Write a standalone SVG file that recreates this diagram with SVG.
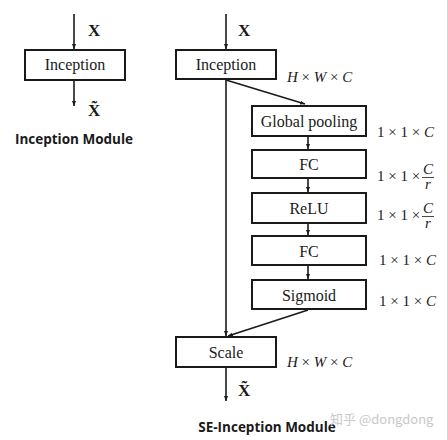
<svg xmlns="http://www.w3.org/2000/svg" width="447" height="440" viewBox="0 0 447 440">
<style>
.box{fill:#fff;stroke:#1a1a1a;stroke-width:2}
.ln{stroke:#1a1a1a;stroke-width:1.6;fill:none}
.t{font-family:"Liberation Serif",serif;font-size:16px;fill:#1a1a1a;text-anchor:middle}
.x{font-family:"Liberation Serif",serif;font-size:17px;font-weight:bold;fill:#1a1a1a}
.dim{font-family:"Liberation Serif",serif;font-size:15px;fill:#1a1a1a}
.it{font-style:italic}
.cap{font-family:"Open Sans","Liberation Sans",sans-serif;font-size:13.5px;font-weight:bold;fill:#1a1a1a;text-anchor:middle}
</style>
<defs>
<marker id="ah" viewBox="0 0 10 10" refX="10" refY="5" markerWidth="5" markerHeight="5" orient="auto" markerUnits="userSpaceOnUse">
<path d="M0,1 L10,5 L0,9 z" fill="#1a1a1a"/>
</marker>
</defs>
<rect width="447" height="440" fill="#fff"/>
<g id="connectors">
<line class="ln" x1="74" y1="14" x2="74" y2="49" marker-end="url(#ah)"/>
<line class="ln" x1="74" y1="81" x2="74" y2="106" marker-end="url(#ah)"/>
<line class="ln" x1="226" y1="14" x2="226" y2="49" marker-end="url(#ah)"/>
<line class="ln" x1="226" y1="80" x2="305" y2="104" marker-end="url(#ah)"/>
<line class="ln" x1="226" y1="80" x2="226" y2="336" marker-end="url(#ah)"/>
<line class="ln" x1="308" y1="137" x2="308" y2="149" marker-end="url(#ah)"/>
<line class="ln" x1="308" y1="178" x2="308" y2="192" marker-end="url(#ah)"/>
<line class="ln" x1="308" y1="224" x2="308" y2="235" marker-end="url(#ah)"/>
<line class="ln" x1="308" y1="266" x2="308" y2="279" marker-end="url(#ah)"/>
<line class="ln" x1="308" y1="310" x2="228" y2="336" marker-end="url(#ah)"/>
<line class="ln" x1="226" y1="368" x2="226" y2="401" marker-end="url(#ah)"/>
</g>
<g id="inception-left">
<rect class="box" x="25" y="50" width="100" height="30"/>
<text class="t" x="75" y="70">Inception</text>
</g>
<text class="x" x="88" y="36">X</text>
<text class="x" x="88" y="116">X̃</text>
<text class="cap" x="74" y="144">Inception Module</text>
<g id="inception-right">
<rect class="box" x="176" y="50" width="100" height="29"/>
<text class="t" x="226" y="70">Inception</text>
</g>
<text class="x" x="238" y="36">X</text>
<text class="dim" x="287" y="82"><tspan class="it">H</tspan> × <tspan class="it">W</tspan> × <tspan class="it">C</tspan></text>
<g id="global-pooling">
<rect class="box" x="252" y="106" width="114" height="30"/>
<text class="t" x="309" y="127">Global pooling</text>
</g>
<g id="fc1">
<rect class="box" x="252" y="150" width="114" height="28"/>
<text class="t" x="309" y="170">FC</text>
</g>
<g id="relu">
<rect class="box" x="252" y="193" width="114" height="30"/>
<text class="t" x="309" y="214">ReLU</text>
</g>
<g id="fc2">
<rect class="box" x="252" y="236" width="114" height="29"/>
<text class="t" x="309" y="257">FC</text>
</g>
<g id="sigmoid">
<rect class="box" x="252" y="280" width="114" height="29"/>
<text class="t" x="309" y="301">Sigmoid</text>
</g>
<text class="dim" x="377" y="137">1 × 1 × <tspan class="it">C</tspan></text>
<text class="dim" x="377" y="181">1 × 1 ×</text>
<text class="dim it" x="428" y="174" text-anchor="middle">C</text>
<line x1="422" y1="177.5" x2="434" y2="177.5" stroke="#1a1a1a" stroke-width="0.8"/>
<text class="dim it" x="428" y="189" text-anchor="middle">r</text>
<text class="dim" x="377" y="220">1 × 1 ×</text>
<text class="dim it" x="428" y="213" text-anchor="middle">C</text>
<line x1="422" y1="216.5" x2="434" y2="216.5" stroke="#1a1a1a" stroke-width="0.8"/>
<text class="dim it" x="428" y="228" text-anchor="middle">r</text>
<text class="dim" x="379" y="265">1 × 1 × <tspan class="it">C</tspan></text>
<text class="dim" x="379" y="306">1 × 1 × <tspan class="it">C</tspan></text>
<g id="scale">
<rect class="box" x="176" y="337" width="100" height="30"/>
<text class="t" x="226" y="358">Scale</text>
</g>
<text class="dim" x="287" y="367"><tspan class="it">H</tspan> × <tspan class="it">W</tspan> × <tspan class="it">C</tspan></text>
<text class="x" x="238" y="396">X̃</text>
<text class="cap" x="267" y="432">SE-Inception Module</text>
<text x="330" y="424" font-family="'Noto Sans CJK SC','Liberation Sans',sans-serif" font-size="13" fill="#c8c8c8">知乎 @dongdong</text>
</svg>
